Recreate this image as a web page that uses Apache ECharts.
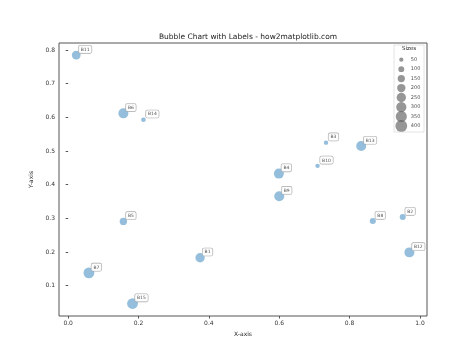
<!DOCTYPE html>
<html>
<head>
<meta charset="utf-8">
<script src="https://cdn.jsdelivr.net/npm/echarts@6/dist/echarts.min.js"></script>
<style>
  html, body { margin: 0; padding: 0; background: #fff; }
  #chart { width: 474px; height: 355px; }
</style>
</head>
<body>
<div id="chart"></div>
<script>
// bubble data (sizes are matplotlib s values, pt^2)
var names = ['B1', 'B2', 'B3', 'B4', 'B5', 'B6', 'B7', 'B8', 'B9', 'B10', 'B11', 'B12', 'B13', 'B14', 'B15'];
var xs = [0.375, 0.951, 0.733, 0.599, 0.157, 0.157, 0.059, 0.866, 0.600, 0.709, 0.023, 0.970, 0.833, 0.214, 0.183];
var ys = [0.183, 0.304, 0.525, 0.433, 0.291, 0.612, 0.138, 0.292, 0.366, 0.456, 0.785, 0.199, 0.515, 0.593, 0.047];
var sizes = [200, 85, 45, 230, 125, 230, 270, 85, 230, 45, 180, 230, 230, 50, 270];

var xTicks = [0.0, 0.2, 0.4, 0.6, 0.8, 1.0];
var yTicks = [0.1, 0.2, 0.3, 0.4, 0.5, 0.6, 0.7, 0.8];
var legendSizes = [50, 100, 150, 200, 250, 300, 350, 400];

var font = 'DejaVu Sans';
var PT = 0.658; // px per point at this figure size

function diam(s) { return Math.sqrt(s) * PT; }

var bubbles = names.map(function (n, i) {
    return { name: n, value: [xs[i], ys[i], sizes[i]] };
});
var legendData = legendSizes.map(function (s, i) {
    return { name: String(s), value: [7.3, i, s] };
});

var chart = echarts.init(document.getElementById('chart'));
chart.setOption({
    animation: false,
    title: {
        text: 'Bubble Chart with Labels - how2matplotlib.com',
        left: 243, top: 28, textAlign: 'center',
        textStyle: { fontFamily: font, fontSize: 7.5, fontWeight: 'normal', color: '#222' }
    },
    grid: [
        { left: 59, right: 47, top: 43, bottom: 39, show: true, borderColor: '#555', borderWidth: 1 },
        { left: 394, top: 45, width: 30, height: 87, show: true, borderColor: '#ddd', borderWidth: 0.8, backgroundColor: '#fff' }
    ],
    xAxis: [{
        type: 'value', gridIndex: 0, min: -0.026, max: 1.02,
        name: 'X-axis', nameLocation: 'middle', nameGap: 15,
        nameTextStyle: { fontFamily: font, fontSize: 6, color: '#222' },
        splitLine: { show: false },
        axisLine: { show: false },
        axisTick: { show: true, length: 2.5, lineStyle: { color: '#555' }, customValues: xTicks },
        axisLabel: {
            fontFamily: font, fontSize: 6, color: '#333', margin: 4,
            customValues: xTicks,
            formatter: function (v) { return v.toFixed(1); }
        }
    }, {
        type: 'value', gridIndex: 1, min: 0, max: 30, show: false
    }],
    yAxis: [{
        type: 'value', gridIndex: 0, min: 0.01, max: 0.821,
        name: 'Y-axis', nameLocation: 'middle', nameGap: 17, nameRotate: 90,
        nameTextStyle: { fontFamily: font, fontSize: 6, color: '#222' },
        splitLine: { show: false },
        axisLine: { show: false },
        axisTick: { show: true, length: 2.5, lineStyle: { color: '#555' }, customValues: yTicks },
        axisLabel: {
            fontFamily: font, fontSize: 6, color: '#333', margin: 4,
            customValues: yTicks,
            formatter: function (v) { return v.toFixed(1); }
        }
    }, {
        type: 'value', gridIndex: 1, min: -1.55, max: 7.64, inverse: true, show: false
    }],
    graphic: [{
        type: 'text', left: 402, top: 46, z: 10,
        style: { text: 'Sizes', fontFamily: font, fontSize: 5.5, fill: '#222' }
    }],
    series: [{
        type: 'scatter',
        xAxisIndex: 0, yAxisIndex: 0,
        data: bubbles,
        symbolSize: function (v) { return diam(v[2]); },
        itemStyle: { color: 'rgba(31,119,180,0.6)' },
        label: {
            show: true,
            position: 'inside',
            align: 'left',
            verticalAlign: 'bottom',
            offset: [2.5, -2],
            formatter: '{b}',
            fontFamily: font, fontSize: 4.5, color: '#222',
            backgroundColor: '#fff',
            borderColor: '#999', borderWidth: 0.6, borderRadius: 1.5,
            padding: [1.5, 2, 1, 2]
        }
    }, {
        type: 'scatter',
        xAxisIndex: 1, yAxisIndex: 1,
        data: legendData,
        symbolSize: function (v) { return diam(v[2]) * 0.9; },
        itemStyle: { color: 'rgba(90,90,90,0.8)' },
        label: {
            show: true, position: 'inside', align: 'left', offset: [9.5, 0],
            formatter: '{b}',
            fontFamily: font, fontSize: 5, color: '#222'
        }
    }]
});
</script>
</body>
</html>
